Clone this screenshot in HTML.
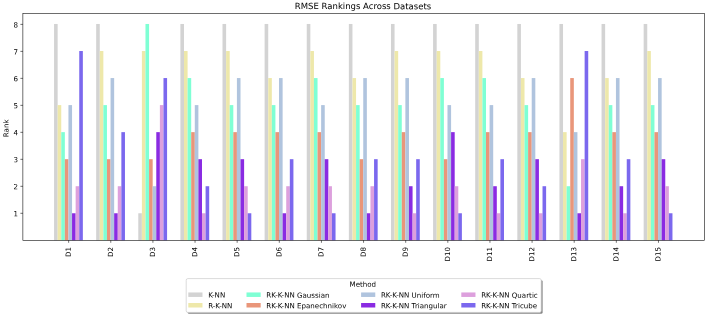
<!DOCTYPE html>
<html lang="en"><head><meta charset="utf-8"><title>RMSE Rankings Across Datasets</title>
<style>html,body{margin:0;padding:0;background:#fff}body{width:708px;height:319px;overflow:hidden}svg{display:block}text{font-family:"DejaVu Sans","Liberation Sans",sans-serif;fill:#000;text-rendering:geometricPrecision}</style>
</head><body>
<svg width="708" height="319" viewBox="0 0 708 319">
<rect x="0" y="0" width="708" height="319" fill="#fff"/>
<g fill="#d3d3d3">
<rect x="54.05" y="23.98" width="3.6" height="216.32"/>
<rect x="96.16" y="23.98" width="3.6" height="216.32"/>
<rect x="138.28" y="213.26" width="3.6" height="27.04"/>
<rect x="180.39" y="23.98" width="3.6" height="216.32"/>
<rect x="222.51" y="23.98" width="3.6" height="216.32"/>
<rect x="264.62" y="23.98" width="3.6" height="216.32"/>
<rect x="306.74" y="23.98" width="3.6" height="216.32"/>
<rect x="348.86" y="23.98" width="3.6" height="216.32"/>
<rect x="390.97" y="23.98" width="3.6" height="216.32"/>
<rect x="433.09" y="23.98" width="3.6" height="216.32"/>
<rect x="475.2" y="23.98" width="3.6" height="216.32"/>
<rect x="517.32" y="23.98" width="3.6" height="216.32"/>
<rect x="559.43" y="23.98" width="3.6" height="216.32"/>
<rect x="601.54" y="23.98" width="3.6" height="216.32"/>
<rect x="643.66" y="23.98" width="3.6" height="216.32"/>
</g>
<g fill="#eee8aa">
<rect x="57.65" y="105.1" width="3.6" height="135.2"/>
<rect x="99.76" y="51.02" width="3.6" height="189.28"/>
<rect x="141.88" y="51.02" width="3.6" height="189.28"/>
<rect x="183.99" y="51.02" width="3.6" height="189.28"/>
<rect x="226.11" y="51.02" width="3.6" height="189.28"/>
<rect x="268.23" y="78.06" width="3.6" height="162.24"/>
<rect x="310.34" y="51.02" width="3.6" height="189.28"/>
<rect x="352.46" y="78.06" width="3.6" height="162.24"/>
<rect x="394.57" y="51.02" width="3.6" height="189.28"/>
<rect x="436.69" y="51.02" width="3.6" height="189.28"/>
<rect x="478.8" y="51.02" width="3.6" height="189.28"/>
<rect x="520.92" y="78.06" width="3.6" height="162.24"/>
<rect x="563.03" y="132.14" width="3.6" height="108.16"/>
<rect x="605.14" y="78.06" width="3.6" height="162.24"/>
<rect x="647.26" y="51.02" width="3.6" height="189.28"/>
</g>
<g fill="#7fffd4">
<rect x="61.25" y="132.14" width="3.6" height="108.16"/>
<rect x="103.36" y="105.1" width="3.6" height="135.2"/>
<rect x="145.48" y="23.98" width="3.6" height="216.32"/>
<rect x="187.59" y="78.06" width="3.6" height="162.24"/>
<rect x="229.71" y="105.1" width="3.6" height="135.2"/>
<rect x="271.82" y="105.1" width="3.6" height="135.2"/>
<rect x="313.94" y="78.06" width="3.6" height="162.24"/>
<rect x="356.06" y="105.1" width="3.6" height="135.2"/>
<rect x="398.17" y="105.1" width="3.6" height="135.2"/>
<rect x="440.29" y="78.06" width="3.6" height="162.24"/>
<rect x="482.4" y="78.06" width="3.6" height="162.24"/>
<rect x="524.52" y="105.1" width="3.6" height="135.2"/>
<rect x="566.63" y="186.22" width="3.6" height="54.08"/>
<rect x="608.75" y="105.1" width="3.6" height="135.2"/>
<rect x="650.86" y="105.1" width="3.6" height="135.2"/>
</g>
<g fill="#e9967a">
<rect x="64.85" y="159.18" width="3.6" height="81.12"/>
<rect x="106.96" y="159.18" width="3.6" height="81.12"/>
<rect x="149.08" y="159.18" width="3.6" height="81.12"/>
<rect x="191.19" y="132.14" width="3.6" height="108.16"/>
<rect x="233.31" y="132.14" width="3.6" height="108.16"/>
<rect x="275.43" y="132.14" width="3.6" height="108.16"/>
<rect x="317.54" y="132.14" width="3.6" height="108.16"/>
<rect x="359.66" y="159.18" width="3.6" height="81.12"/>
<rect x="401.77" y="132.14" width="3.6" height="108.16"/>
<rect x="443.89" y="159.18" width="3.6" height="81.12"/>
<rect x="486" y="132.14" width="3.6" height="108.16"/>
<rect x="528.12" y="132.14" width="3.6" height="108.16"/>
<rect x="570.23" y="78.06" width="3.6" height="162.24"/>
<rect x="612.34" y="132.14" width="3.6" height="108.16"/>
<rect x="654.46" y="132.14" width="3.6" height="108.16"/>
</g>
<g fill="#b0c4de">
<rect x="68.45" y="105.1" width="3.6" height="135.2"/>
<rect x="110.56" y="78.06" width="3.6" height="162.24"/>
<rect x="152.68" y="186.22" width="3.6" height="54.08"/>
<rect x="194.79" y="105.1" width="3.6" height="135.2"/>
<rect x="236.91" y="78.06" width="3.6" height="162.24"/>
<rect x="279.02" y="78.06" width="3.6" height="162.24"/>
<rect x="321.14" y="105.1" width="3.6" height="135.2"/>
<rect x="363.25" y="78.06" width="3.6" height="162.24"/>
<rect x="405.37" y="78.06" width="3.6" height="162.24"/>
<rect x="447.49" y="105.1" width="3.6" height="135.2"/>
<rect x="489.6" y="105.1" width="3.6" height="135.2"/>
<rect x="531.72" y="78.06" width="3.6" height="162.24"/>
<rect x="573.83" y="132.14" width="3.6" height="108.16"/>
<rect x="615.94" y="78.06" width="3.6" height="162.24"/>
<rect x="658.06" y="78.06" width="3.6" height="162.24"/>
</g>
<g fill="#8a2be2">
<rect x="72.05" y="213.26" width="3.6" height="27.04"/>
<rect x="114.16" y="213.26" width="3.6" height="27.04"/>
<rect x="156.28" y="132.14" width="3.6" height="108.16"/>
<rect x="198.39" y="159.18" width="3.6" height="81.12"/>
<rect x="240.51" y="159.18" width="3.6" height="81.12"/>
<rect x="282.62" y="213.26" width="3.6" height="27.04"/>
<rect x="324.74" y="159.18" width="3.6" height="81.12"/>
<rect x="366.86" y="213.26" width="3.6" height="27.04"/>
<rect x="408.97" y="186.22" width="3.6" height="54.08"/>
<rect x="451.09" y="132.14" width="3.6" height="108.16"/>
<rect x="493.2" y="186.22" width="3.6" height="54.08"/>
<rect x="535.32" y="159.18" width="3.6" height="81.12"/>
<rect x="577.43" y="213.26" width="3.6" height="27.04"/>
<rect x="619.54" y="186.22" width="3.6" height="54.08"/>
<rect x="661.66" y="159.18" width="3.6" height="81.12"/>
</g>
<g fill="#dda0dd">
<rect x="75.65" y="186.22" width="3.6" height="54.08"/>
<rect x="117.76" y="186.22" width="3.6" height="54.08"/>
<rect x="159.88" y="105.1" width="3.6" height="135.2"/>
<rect x="201.99" y="213.26" width="3.6" height="27.04"/>
<rect x="244.11" y="186.22" width="3.6" height="54.08"/>
<rect x="286.23" y="186.22" width="3.6" height="54.08"/>
<rect x="328.34" y="186.22" width="3.6" height="54.08"/>
<rect x="370.46" y="186.22" width="3.6" height="54.08"/>
<rect x="412.57" y="213.26" width="3.6" height="27.04"/>
<rect x="454.69" y="186.22" width="3.6" height="54.08"/>
<rect x="496.8" y="213.26" width="3.6" height="27.04"/>
<rect x="538.92" y="213.26" width="3.6" height="27.04"/>
<rect x="581.03" y="159.18" width="3.6" height="81.12"/>
<rect x="623.14" y="213.26" width="3.6" height="27.04"/>
<rect x="665.26" y="186.22" width="3.6" height="54.08"/>
</g>
<g fill="#7b68ee">
<rect x="79.25" y="51.02" width="3.6" height="189.28"/>
<rect x="121.36" y="132.14" width="3.6" height="108.16"/>
<rect x="163.48" y="78.06" width="3.6" height="162.24"/>
<rect x="205.59" y="186.22" width="3.6" height="54.08"/>
<rect x="247.71" y="213.26" width="3.6" height="27.04"/>
<rect x="289.82" y="159.18" width="3.6" height="81.12"/>
<rect x="331.94" y="213.26" width="3.6" height="27.04"/>
<rect x="374.06" y="159.18" width="3.6" height="81.12"/>
<rect x="416.17" y="159.18" width="3.6" height="81.12"/>
<rect x="458.29" y="213.26" width="3.6" height="27.04"/>
<rect x="500.4" y="159.18" width="3.6" height="81.12"/>
<rect x="542.52" y="186.22" width="3.6" height="54.08"/>
<rect x="584.63" y="51.02" width="3.6" height="189.28"/>
<rect x="626.75" y="159.18" width="3.6" height="81.12"/>
<rect x="668.86" y="213.26" width="3.6" height="27.04"/>
</g>
<g stroke="#000" stroke-width="0.57" fill="none">
<line x1="68.65" y1="240.3" x2="68.65" y2="242.78"/>
<line x1="110.78" y1="240.3" x2="110.78" y2="242.78"/>
<line x1="152.91" y1="240.3" x2="152.91" y2="242.78"/>
<line x1="195.04" y1="240.3" x2="195.04" y2="242.78"/>
<line x1="237.17" y1="240.3" x2="237.17" y2="242.78"/>
<line x1="279.3" y1="240.3" x2="279.3" y2="242.78"/>
<line x1="321.43" y1="240.3" x2="321.43" y2="242.78"/>
<line x1="363.56" y1="240.3" x2="363.56" y2="242.78"/>
<line x1="405.69" y1="240.3" x2="405.69" y2="242.78"/>
<line x1="447.82" y1="240.3" x2="447.82" y2="242.78"/>
<line x1="489.95" y1="240.3" x2="489.95" y2="242.78"/>
<line x1="532.08" y1="240.3" x2="532.08" y2="242.78"/>
<line x1="574.21" y1="240.3" x2="574.21" y2="242.78"/>
<line x1="616.34" y1="240.3" x2="616.34" y2="242.78"/>
<line x1="658.47" y1="240.3" x2="658.47" y2="242.78"/>
<line x1="22.88" y1="213.31" x2="20.4" y2="213.31"/>
<line x1="22.88" y1="186.32" x2="20.4" y2="186.32"/>
<line x1="22.88" y1="159.33" x2="20.4" y2="159.33"/>
<line x1="22.88" y1="132.34" x2="20.4" y2="132.34"/>
<line x1="22.88" y1="105.35" x2="20.4" y2="105.35"/>
<line x1="22.88" y1="78.36" x2="20.4" y2="78.36"/>
<line x1="22.88" y1="51.38" x2="20.4" y2="51.38"/>
<line x1="22.88" y1="24.39" x2="20.4" y2="24.39"/>
<rect x="22.88" y="13.59" width="681.72" height="226.71"/>
</g>
<g font-size="7.085">
<text transform="translate(17.92,216.31) rotate(0.05)" text-anchor="end">1</text>
<text transform="translate(17.92,189.32) rotate(0.05)" text-anchor="end">2</text>
<text transform="translate(17.92,162.33) rotate(0.05)" text-anchor="end">3</text>
<text transform="translate(17.92,135.34) rotate(0.05)" text-anchor="end">4</text>
<text transform="translate(17.92,108.35) rotate(0.05)" text-anchor="end">5</text>
<text transform="translate(17.92,81.36) rotate(0.05)" text-anchor="end">6</text>
<text transform="translate(17.92,54.38) rotate(0.05)" text-anchor="end">7</text>
<text transform="translate(17.92,27.39) rotate(0.05)" text-anchor="end">8</text>
<text transform="translate(70.8,247) rotate(-89.95)" text-anchor="end">D1</text>
<text transform="translate(112.93,247) rotate(-89.95)" text-anchor="end">D2</text>
<text transform="translate(155.06,247) rotate(-89.95)" text-anchor="end">D3</text>
<text transform="translate(197.19,247) rotate(-89.95)" text-anchor="end">D4</text>
<text transform="translate(239.32,247) rotate(-89.95)" text-anchor="end">D5</text>
<text transform="translate(281.45,247) rotate(-89.95)" text-anchor="end">D6</text>
<text transform="translate(323.58,247) rotate(-89.95)" text-anchor="end">D7</text>
<text transform="translate(365.71,247) rotate(-89.95)" text-anchor="end">D8</text>
<text transform="translate(407.84,247) rotate(-89.95)" text-anchor="end">D9</text>
<text transform="translate(449.97,247) rotate(-89.95)" text-anchor="end">D10</text>
<text transform="translate(492.1,247) rotate(-89.95)" text-anchor="end">D11</text>
<text transform="translate(534.23,247) rotate(-89.95)" text-anchor="end">D12</text>
<text transform="translate(576.36,247) rotate(-89.95)" text-anchor="end">D13</text>
<text transform="translate(618.49,247) rotate(-89.95)" text-anchor="end">D14</text>
<text transform="translate(660.62,247) rotate(-89.95)" text-anchor="end">D15</text>
<text transform="translate(8.6,128.3) rotate(-89.95)" text-anchor="middle">Rank</text>
</g>
<text transform="translate(363.04,9.1) rotate(0.05)" font-size="8.5" text-anchor="middle">RMSE Rankings Across Datasets</text>
<rect x="187.62" y="280.02" width="355" height="33.8" rx="1.6" fill="#000" fill-opacity="0.48"/>
<rect x="186.2" y="278.6" width="355" height="33.8" rx="1.6" fill="#fff" stroke="#ccc" stroke-width="0.71"/>
<g font-size="7.085">
<text transform="translate(362.8,286.75) rotate(0.05)" text-anchor="middle">Method</text>
<rect x="188.3" y="292.45" width="14.17" height="4.5" fill="#d3d3d3"/>
<text transform="translate(208.14,297.6) rotate(0.05)">K-NN</text>
<rect x="188.3" y="303" width="14.17" height="4.5" fill="#eee8aa"/>
<text transform="translate(208.14,308.15) rotate(0.05)">R-K-NN</text>
<rect x="246.5" y="292.45" width="14.17" height="4.5" fill="#7fffd4"/>
<text transform="translate(266.34,297.6) rotate(0.05)">RK-K-NN Gaussian</text>
<rect x="246.5" y="303" width="14.17" height="4.5" fill="#e9967a"/>
<text transform="translate(266.34,308.15) rotate(0.05)">RK-K-NN Epanechnikov</text>
<rect x="361.1" y="292.45" width="14.17" height="4.5" fill="#b0c4de"/>
<text transform="translate(380.94,297.6) rotate(0.05)">RK-K-NN Uniform</text>
<rect x="361.1" y="303" width="14.17" height="4.5" fill="#8a2be2"/>
<text transform="translate(380.94,308.15) rotate(0.05)">RK-K-NN Triangular</text>
<rect x="461.3" y="292.45" width="14.17" height="4.5" fill="#dda0dd"/>
<text transform="translate(481.14,297.6) rotate(0.05)">RK-K-NN Quartic</text>
<rect x="461.3" y="303" width="14.17" height="4.5" fill="#7b68ee"/>
<text transform="translate(481.14,308.15) rotate(0.05)">RK-K-NN Tricube</text>
</g>
</svg></body></html>
